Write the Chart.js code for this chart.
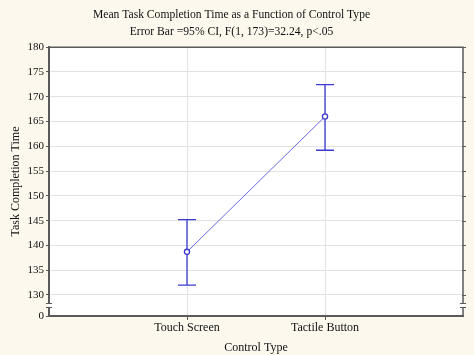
<!DOCTYPE html>
<html>
<head>
<meta charset="utf-8">
<script src="https://cdn.jsdelivr.net/npm/chart.js@4"></script>
<style>
html,body{margin:0;padding:0;background:#fcf8ee;}
#wrap{width:474px;height:355px;position:relative;}
</style>
</head>
<body>
<div id="wrap"><canvas id="c" width="474" height="355"></canvas></div>
<script>
const categories = ['Touch Screen', 'Tactile Button'];
const means = [138.7, 166.0];
const ciLower = [132.0, 159.2];
const ciUpper = [145.2, 172.45];
const yTickValues = [130, 135, 140, 145, 150, 155, 160, 165, 170, 175, 180];
const yBreakLabel = '0';
const titleLines = ['Mean Task Completion Time as a Function of Control Type', 'Error Bar =95% CI, F(1, 173)=32.24, p<.05'];

const Y_BREAK_AT = 125.76;   // axis position where the broken axis shows "0"
const BREAK_MARK = 128.0;
const AXIS_COLOR = '#5a5a5a';
const BLUE = '#3b3bd0';
const SERIF = '"Liberation Serif", "Times New Roman", serif';

const pts = means.map((m, i) => ({x: i + 1, y: m}));

const plotBg = {
  id: 'plotBg',
  beforeDraw(chart) {
    const {ctx, chartArea: a} = chart;
    ctx.save();
    ctx.fillStyle = '#ffffff';
    ctx.fillRect(a.left, a.top, a.right - a.left, a.bottom - a.top);
    ctx.restore();
  }
};

const extras = {
  id: 'extras',
  beforeDatasetsDraw(chart) {
    const {ctx, chartArea: a, scales: {x, y}} = chart;
    ctx.save();
    // top + right border
    ctx.strokeStyle = AXIS_COLOR;
    ctx.lineWidth = 1.5;
    ctx.beginPath();
    ctx.moveTo(a.left, a.top); ctx.lineTo(a.right, a.top); ctx.lineTo(a.right, a.bottom);
    ctx.stroke();
    // right ticks
    ctx.lineWidth = 1;
    yTickValues.forEach(v => {
      const py = Math.round(y.getPixelForValue(v)) + 0.5;
      ctx.beginPath(); ctx.moveTo(a.right - 1, py); ctx.lineTo(a.right + 3, py); ctx.stroke();
    });
    // axis breaks
    const by = y.getPixelForValue(BREAK_MARK);
    [a.left, a.right].forEach(px => {
      ctx.fillStyle = '#ffffff';
      ctx.fillRect(px - 1, by - 1, 3, 3);
      ctx.fillStyle = '#fcf8ee';
      ctx.fillRect(px - 2, by - 1, 1, 3);
      ctx.strokeStyle = AXIS_COLOR;
      ctx.lineWidth = 1;
      ctx.beginPath();
      ctx.moveTo(px - 3, Math.round(by - 1) - 0.5); ctx.lineTo(px + 3, Math.round(by - 1) - 0.5);
      ctx.moveTo(px - 3, Math.round(by + 2) + 0.5); ctx.lineTo(px + 3, Math.round(by + 2) + 0.5);
      ctx.stroke();
    });
    // error bars
    ctx.strokeStyle = BLUE;
    ctx.lineWidth = 1.3;
    means.forEach((m, i) => {
      const px = x.getPixelForValue(i + 1);
      const yl = y.getPixelForValue(ciLower[i]);
      const yu = y.getPixelForValue(ciUpper[i]);
      ctx.beginPath();
      ctx.moveTo(px, yl); ctx.lineTo(px, yu);
      ctx.moveTo(px - 9, yl); ctx.lineTo(px + 9, yl);
      ctx.moveTo(px - 9, yu); ctx.lineTo(px + 9, yu);
      ctx.stroke();
    });
    ctx.restore();
  }
};

new Chart(document.getElementById('c'), {
  type: 'line',
  data: {
    datasets: [{
      data: pts,
      borderColor: '#6a6ae0',
      borderWidth: 1,
      pointRadius: 2.6,
      pointBorderWidth: 1.3,
      pointBorderColor: BLUE,
      pointBackgroundColor: '#ffffff',
      tension: 0
    }]
  },
  options: {
    responsive: false,
    animation: false,
    events: [],
    layout: {padding: {left: 0, right: 11, top: 0, bottom: 0}},
    plugins: {
      legend: {display: false},
      tooltip: {enabled: false},
      title: {
        display: true,
        text: titleLines,
        color: '#111',
        font: {family: SERIF, size: 11.6, weight: 'normal', lineHeight: 1.45},
        padding: {top: 7, bottom: 6.5}
      }
    },
    scales: {
      x: {
        type: 'linear',
        min: 0, max: 3,
        afterBuildTicks: s => { s.ticks = categories.map((c, i) => ({value: i + 1})); },
        afterFit: s => { s.height = 39; },
        ticks: {
          callback: (v) => categories[v - 1] || '',
          color: '#111',
          font: {family: SERIF, size: 12},
          padding: 1,
          maxRotation: 0
        },
        grid: {color: '#e2e2e2', tickColor: AXIS_COLOR, tickLength: 4, lineWidth: 1},
        border: {color: AXIS_COLOR, width: 2},
        title: {
          display: true, text: 'Control Type', color: '#111',
          font: {family: SERIF, size: 12},
          padding: {top: 1, bottom: 0}
        }
      },
      y: {
        type: 'linear',
        min: Y_BREAK_AT, max: 180,
        afterBuildTicks: s => { s.ticks = [{value: Y_BREAK_AT}].concat(yTickValues.map(v => ({value: v}))); },
        afterFit: s => { s.width = 49; },
        ticks: {
          callback: (v) => (v === Y_BREAK_AT ? yBreakLabel : String(v)),
          color: '#111',
          font: {family: SERIF, size: 11},
          padding: 2
        },
        grid: {
          color: (c) => (c.tick && c.tick.value === Y_BREAK_AT ? 'rgba(0,0,0,0)' : '#e2e2e2'),
          tickColor: AXIS_COLOR, tickLength: 3, lineWidth: 1
        },
        border: {color: AXIS_COLOR, width: 2},
        title: {
          display: true, text: 'Task Completion Time', color: '#111',
          font: {family: SERIF, size: 12},
          padding: {top: 9, bottom: 0}
        }
      }
    }
  },
  plugins: [plotBg, extras]
});
</script>
</body>
</html>
